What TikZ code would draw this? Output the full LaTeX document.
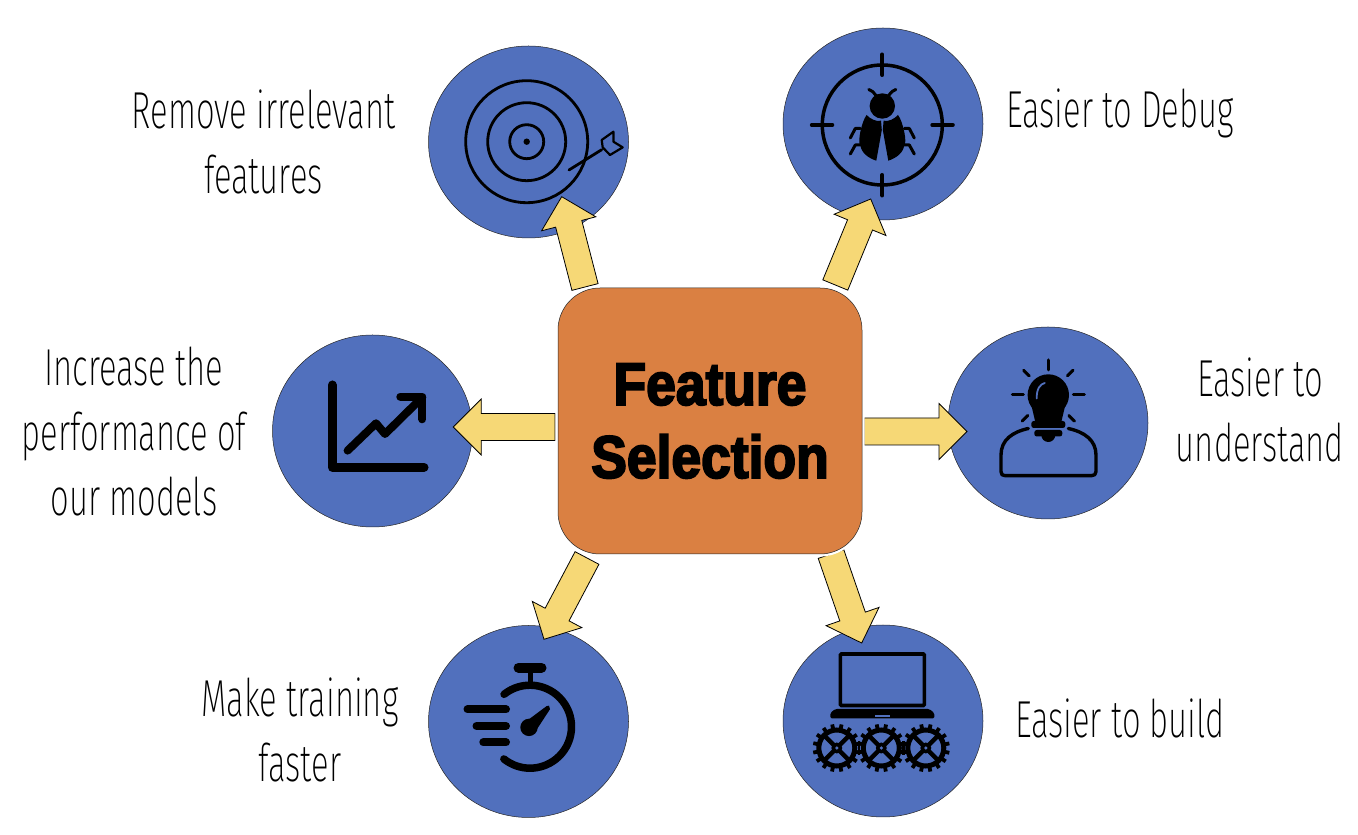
\documentclass[tikz,border=0pt]{standalone}
\usepackage{fontspec}
\usetikzlibrary{calc,shapes.geometric}
\setmainfont{Fira Sans ExtraLight}[FakeStretch=0.632]
\newfontfamily\hubfont{Liberation Sans Bold}[FakeBold=3.2,FakeStretch=0.89]
\definecolor{iconblue}{HTML}{5170BD}
\definecolor{hubbrown}{HTML}{DA8042}
\definecolor{arrowyellow}{HTML}{F6D876}
\tikzset{
    feature/.style={ellipse, draw=black!85, line width=0.5pt, fill=iconblue, inner sep=0pt, minimum width=200pt, minimum height=192pt},
    hubbox/.style={rectangle, rounded corners=42pt, draw=black!85, line width=0.5pt, fill=hubbrown, minimum width=304pt, minimum height=266pt, align=center, inner sep=0pt, font=\hubfont\fontsize{60}{73}\selectfont,
        preaction={draw=white, line width=5pt}},
    benefit/.style={align=center, inner sep=0pt, font=\fontsize{52}{65}\selectfont},
    blockarrow/.style={draw=black, line width=0.8pt, fill=arrowyellow, line join=miter},
    iconline/.style={draw=black, line width=#1, line cap=round, line join=round},
}
\newcommand{\blockarrow}[2]{%
    \draw[blockarrow] ($(#1)!13.5pt!90:(#2)$) -- ($(#2)!28pt!(#1)!13.5pt!-90:(#1)$) -- ($(#2)!28pt!(#1)!28pt!-90:(#1)$) -- (#2)
        -- ($(#2)!28pt!(#1)!28pt!90:(#1)$) -- ($(#2)!28pt!(#1)!13.5pt!90:(#1)$) -- ($(#1)!13.5pt!-90:(#2)$) -- cycle;}
\begin{document}
\begin{tikzpicture}[x=1pt,y=1pt]
    \useasboundingbox (0,0) rectangle (1358,835);
    \node[feature] (target) at (528.5,693) {};
    \node[feature] (bug) at (883,711) {};
    \node[feature] (bulb) at (1048,412) {};
    \node[feature] (laptop) at (883,114) {};
    \node[feature] (watch) at (528.5,113.5) {};
    \node[feature] (chart) at (372.5,404) {};

    \coordinate (targetbase) at (585,548);
    \coordinate (targettip) at (561.7,638.3);
    \coordinate (bugbase) at (835.3,550);
    \coordinate (bugtip) at (870.7,636);
    \coordinate (bulbbase) at (864,403.5);
    \coordinate (bulbtip) at (967,403.5);
    \coordinate (laptopbase) at (831,281);
    \coordinate (laptoptip) at (861.7,192);
    \coordinate (watchbase) at (587,277);
    \coordinate (watchtip) at (544,195.7);
    \coordinate (chartbase) at (555,408);
    \coordinate (charttip) at (453.3,408);
    \blockarrow{targetbase}{targettip}
    \blockarrow{bugbase}{bugtip}
    \blockarrow{bulbbase}{bulbtip}
    \blockarrow{laptopbase}{laptoptip}
    \blockarrow{watchbase}{watchtip}
    \blockarrow{chartbase}{charttip}

    \node[hubbox] (hub) at (710,414) {Feature\\Selection};

    \node[benefit] (targettext) at (263.5,693) {Remove irrelevant\\features};
    \node[benefit] (bugtext) at (1120,722) {Easier to Debug};
    \node[benefit] (bulbtext) at (1260,425) {Easier to\\understand};
    \node[benefit] (laptoptext) at (1120,117) {Easier to build};
    \node[benefit] (watchtext) at (300,105) {Make training\\faster};
    \node[benefit] (charttext) at (134,403) {Increase the\\performance of\\our models};

    % target
    \begin{scope}[shift={(526.7,693.3)}]
        \foreach \r in {17,39,61}
            \draw[iconline=2.8pt] (0,0) circle (\r);
        \fill (0,0) circle (3.2);
        \draw[iconline=2.8pt] (42.3,-28.3) -- (75,-8);
        \draw[iconline=2.2pt] (75,1.7) -- (86.7,10) -- (86.7,0) -- (96,-5.7) -- (83.3,-13.3) -- (76,-5.7) -- cycle;
    \end{scope}

    % bug
    \begin{scope}[shift={(882.3,710)}]
        \draw[iconline=3.5pt] (0,0) circle (60);
        \foreach \a in {0,90,180,270}
            \draw[iconline=4pt] (\a:50) -- (\a:70.5);
        \fill (0,19) circle (12.7);
        \foreach \s in {1,-1} {
            \begin{scope}[xscale=\s]
                \draw[iconline=3pt] (6,29) .. controls (9,33) and (11,35) .. (13.5,35.5);
                \fill (1.3,4.3) .. controls (6,3) and (12,6) .. (15.7,10)
                    .. controls (21,3) and (25,-18) .. (22,-20)
                    .. controls (21,-28) and (14,-33) .. (6,-35.7) -- (0.5,-5) -- cycle;
                \draw[iconline=3pt] (22,-3.5) -- (27,-3.5) -- (32,-13);
                \draw[iconline=3pt] (21,-20) -- (27,-20) -- (32,-29);
            \end{scope}
        }
    \end{scope}

    % bulb
    \begin{scope}[shift={(1048.3,440)}]
        \fill (0,0) circle (20.7);
        \fill (-17,-10) -- (-13,-27) -- (13,-27) -- (17,-10) -- cycle;
        \fill[rounded corners=2.5pt] (-17,-26) rectangle (17,-33);
        \fill[rounded corners=2.5pt] (-14,-35) rectangle (14,-41.5);
        \fill (-7,-40) arc (180:360:7);
        \draw[draw=iconblue, line width=1.8pt, line cap=round] (-11.5,-3.5) .. controls (-12,6) and (-8,11) .. (-3.5,12);
        \foreach \a/\i/\o in {90/25/35,45/27/35,135/27/35,0/25/36,180/25/36,-45/29/37,-135/29/37}
            \draw[iconline=3pt] (\a:\i) -- (\a:\o);
        \draw[iconline=3.4pt] (-20,-33.5) .. controls (-36,-37) and (-47.3,-45) .. (-47.3,-60) -- (-47.3,-76.5)
            .. controls (-47.3,-79.5) and (-46,-80.7) .. (-43,-80.7) -- (43,-80.7)
            .. controls (46,-80.7) and (47.7,-79.5) .. (47.7,-76.5) -- (47.7,-60)
            .. controls (47.7,-45) and (36,-37) .. (20,-33.5);
    \end{scope}

    % laptop and gears
    \begin{scope}[shift={(882.3,150)}]
        \draw[draw=black, line width=3.6pt, rounded corners=1pt] (-42,31) rectangle (42,-20.5);
        \fill[rounded corners=1.5pt] (-47,-24) -- (47,-24) -- (52,-28) -- (52,-33.5) -- (-52,-33.5) -- (-52,-28) -- cycle;
        \fill[iconblue] (-7,-30) rectangle (8,-31.7);
        \foreach \x in {-45.5,-1,43.5} {
            \begin{scope}[shift={(\x,-63)}]
                \draw[draw=black, line width=5pt] (0,0) circle (18);
                \foreach \a in {0,22.5,...,337.5}
                    \draw[draw=black, line width=3.8pt] (\a+11:18) -- (\a+11:24);
                \foreach \a in {45,135}
                    \draw[draw=black, line width=4.4pt] (\a:-18) -- (\a:18);
                \fill (0,0) circle (5.5);
                \fill[iconblue] (0,0) circle (1.8);
            \end{scope}
        }
        \draw[draw=black, line width=2.4pt] (-23.5,-56) -- (-23.5,-70);
        \draw[draw=black, line width=2.4pt] (21,-56) -- (21,-70);
    \end{scope}

    % stopwatch
    \begin{scope}[shift={(530,108.3)}]
        \draw[iconline=7.5pt] (128.7:41.5) arc (128.7:-129:41.5);
        \draw[draw=black, line width=5pt] (0,41) -- (0,57);
        \draw[iconline=10pt] (-11.5,59) -- (11.5,59);
        \draw[iconline=8pt] (-62.5,17.3) -- (-24,17.3);
        \draw[iconline=8pt] (-53.5,0.7) -- (-24,0.7);
        \draw[iconline=8pt] (-46.7,-15.7) -- (-24,-15.7);
        \fill (-1,-0.7) circle (8.7);
        \fill[line join=round] (-7,3) -- (16.5,20.5) -- (19,21) -- (20,17.5) -- (4,-7) -- cycle;
    \end{scope}

    % chart
    \begin{scope}[shift={(332.3,367.7)}]
        \draw[iconline=9pt] (0,82.3) -- (0,0) -- (91.7,0);
        \draw[iconline=8pt] (15.3,16.7) -- (43.7,44) -- (52.7,33.3) -- (90,70);
        \draw[iconline=8pt] (68,70.7) -- (90,70.7) -- (90,48);
    \end{scope}
\end{tikzpicture}
\end{document}
